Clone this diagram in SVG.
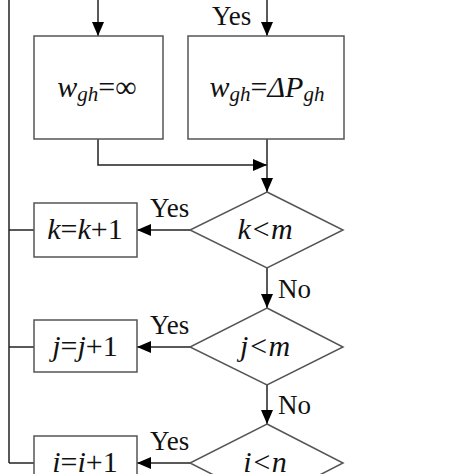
<svg xmlns="http://www.w3.org/2000/svg" width="474" height="474" viewBox="0 0 474 474">
<style>
.box{fill:#fff;stroke:#555;stroke-width:1.5}
.ln{fill:none;stroke:#222;stroke-width:1.5}
.t{font-family:"Liberation Serif","Times New Roman",serif;font-size:27px;fill:#111}
.b{font-size:30px}
.i{font-style:italic}
.s{font-size:21px;font-style:italic}
</style>
<defs>
<marker id="ah" markerUnits="userSpaceOnUse" markerWidth="14" markerHeight="14" viewBox="0 0 14 12" refX="14" refY="6" orient="auto">
<path d="M0,0 L14,6 L0,12 Z" fill="#000"/>
</marker>
</defs>
<g id="connectors">
<line class="ln" x1="9" y1="0" x2="9" y2="463"/>
<line class="ln" x1="98" y1="0" x2="98" y2="36" marker-end="url(#ah)"/>
<line class="ln" x1="267" y1="0" x2="267" y2="36" marker-end="url(#ah)"/>
<polyline class="ln" points="98,139 98,165 267,165" marker-end="url(#ah)"/>
<line class="ln" x1="267" y1="139" x2="267" y2="192" marker-end="url(#ah)"/>
<line class="ln" x1="190" y1="230" x2="137" y2="230" marker-end="url(#ah)"/>
<line class="ln" x1="34" y1="230" x2="9" y2="230"/>
<line class="ln" x1="267" y1="268" x2="267" y2="308" marker-end="url(#ah)"/>
<line class="ln" x1="190" y1="347" x2="137" y2="347" marker-end="url(#ah)"/>
<line class="ln" x1="34" y1="347" x2="9" y2="347"/>
<line class="ln" x1="267" y1="385" x2="267" y2="424" marker-end="url(#ah)"/>
<line class="ln" x1="190" y1="463" x2="137" y2="463" marker-end="url(#ah)"/>
<line class="ln" x1="34" y1="463" x2="9" y2="463"/>
<text class="t" x="212" y="25">Yes</text>
<text class="t" x="150" y="217">Yes</text>
<text class="t" x="278" y="298">No</text>
<text class="t" x="150" y="334">Yes</text>
<text class="t" x="278" y="414">No</text>
<text class="t" x="150" y="450">Yes</text>
</g>
<g id="w-inf">
<rect class="box" x="34" y="36" width="129" height="103"/>
<text class="t b" x="97" y="97" text-anchor="middle"><tspan class="i">w</tspan><tspan class="s" dy="4">gh</tspan><tspan dy="-4">=∞</tspan></text>
</g>
<g id="w-dp">
<rect class="box" x="188" y="36" width="156" height="103"/>
<text class="t b" x="267" y="97" text-anchor="middle"><tspan class="i">w</tspan><tspan class="s" dy="4">gh</tspan><tspan dy="-4">=</tspan><tspan class="i">ΔP</tspan><tspan class="s" dy="4">gh</tspan></text>
</g>
<g id="k-cond">
<polygon class="box" points="267,192 343,230 267,268 190,230"/>
<text class="t b i" x="265" y="239" text-anchor="middle">k&lt;m</text>
</g>
<g id="k-inc">
<rect class="box" x="34" y="203" width="103" height="54"/>
<text class="t b" x="85" y="239" text-anchor="middle"><tspan class="i">k</tspan>=<tspan class="i">k</tspan>+1</text>
</g>
<g id="j-cond">
<polygon class="box" points="267,308 343,347 267,385 190,347"/>
<text class="t b i" x="265" y="356" text-anchor="middle">j&lt;m</text>
</g>
<g id="j-inc">
<rect class="box" x="34" y="320" width="103" height="52"/>
<text class="t b" x="85" y="356" text-anchor="middle"><tspan class="i">j</tspan>=<tspan class="i">j</tspan>+1</text>
</g>
<g id="i-cond">
<polygon class="box" points="267,424 343,463 267,502 190,463"/>
<text class="t b i" x="265" y="472" text-anchor="middle">i&lt;n</text>
</g>
<g id="i-inc">
<rect class="box" x="34" y="436" width="103" height="54"/>
<text class="t b" x="85" y="472" text-anchor="middle"><tspan class="i">i</tspan>=<tspan class="i">i</tspan>+1</text>
</g>
</svg>
